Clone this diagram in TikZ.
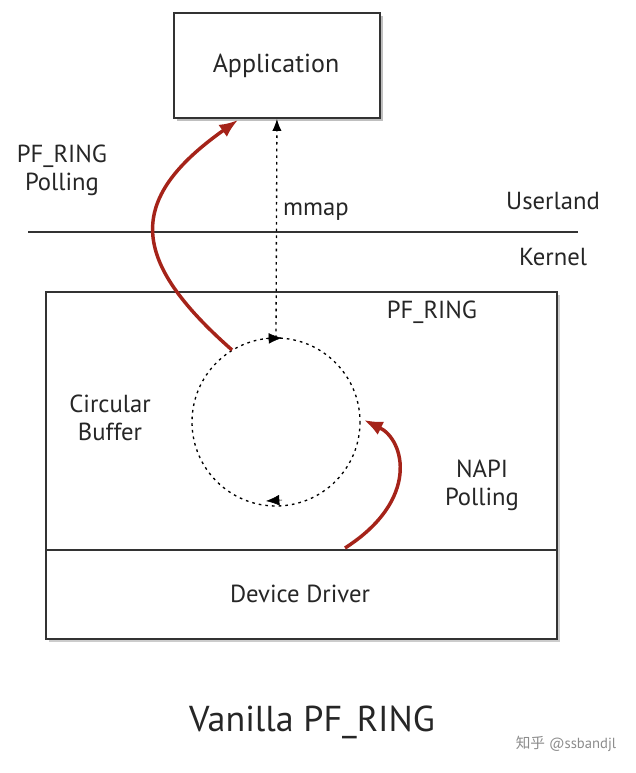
\documentclass[tikz,border=0pt]{standalone}
\usepackage{fontspec}
\setmainfont{PT Sans}
\newfontfamily\cjk{Noto Sans CJK SC}
\usetikzlibrary{arrows.meta}
\definecolor{dred}{RGB}{165,35,25}
\begin{document}
\begin{tikzpicture}[x=0.75pt,y=-0.75pt,
  box/.style={draw=black!80,line width=1.4pt},
  lbl/.style={font=\fontsize{18.5}{21}\selectfont,align=center,text=black!85},
  red/.style={draw=dred,line width=2.6pt,-{Latex[length=14pt,width=11pt]}},
  dot/.style={black,line width=1pt,dash pattern=on 2pt off 3pt}]
\useasboundingbox (0,0) rectangle (635,773);
\fill[black!25] (177,16) rectangle (383,121);
\fill[white] (173,12) rectangle (379,117);
\node[box,minimum width=206*0.75pt,minimum height=105*0.75pt,anchor=north west,inner sep=0] (app) at (173,12) {};
\node[lbl,font=\fontsize{19.5}{22}\selectfont] (applbl) at (276,66) {Application};
\draw[black!80,line width=1.2pt] (28,232) coordinate (l1) -- (578,232) coordinate (l2);
\fill[black!20] (49,295) rectangle (560,642);
\node[box,fill=white,minimum width=511*0.75pt,minimum height=347*0.75pt,anchor=north west,inner sep=0] (pf) at (45,291) {};
\draw[black!80,line width=1.4pt] (45,550) coordinate (d1) -- (556,550) coordinate (d2);
\node[draw=none,circle,minimum size=168*0.75pt] (buf) at (276,422) {};
\draw[dot] (buf) circle[radius=84];
\coordinate (top) at (276,338);
\draw[dot,-{Latex[length=9pt,width=7pt]}] (top) -- (app.south);
\draw[-{Latex[length=10pt,width=8pt]},black] (266,338.5) -- (282,338);
\draw[-{Latex[length=10pt,width=8pt]},black] (282,500) -- (266,501);
\coordinate (r1) at (232,350);
\coordinate (r2) at (238,120);
\draw[red] (r1) .. controls (130,260) and (125,200) .. (r2);
\coordinate (n1) at (345,548);
\coordinate (n2) at (364,420);
\draw[red] (n1) .. controls (420,500) and (405,440) .. (n2);
\node[lbl] (t1) at (62,170) {PF\_RING\\Polling};
\node[lbl] (t2) at (316,212) {mmap};
\node[lbl] (t3) at (553,201) {Userland};
\node[lbl] (t4) at (553,257) {Kernel};
\node[lbl] (t5) at (432,312) {PF\_RING};
\node[lbl] (t6) at (110,418) {Circular\\Buffer};
\node[lbl] (t7) at (482,485) {NAPI\\Polling};
\node[lbl] (t8) at (300,594) {Device Driver};
\node[lbl,font=\fontsize{27}{30}\selectfont] (t9) at (312,722) {Vanilla PF\_RING};
\node[text=black!45,font=\fontsize{11}{13}\selectfont] (wm) at (566,744) {{\cjk 知乎} @ssbandjl};
\end{tikzpicture}
\end{document}
